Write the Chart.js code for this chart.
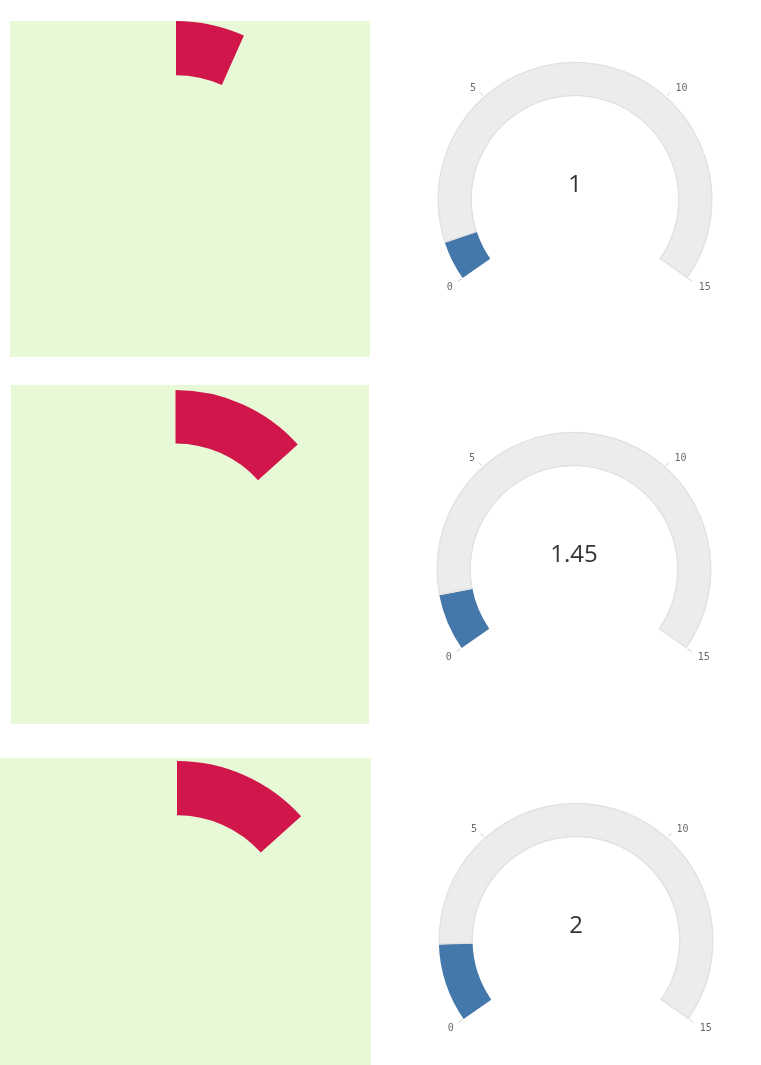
<!DOCTYPE html>
<html>
<head>
<meta charset="utf-8">
<script src="https://cdn.jsdelivr.net/npm/chart.js@4.4.1/dist/chart.umd.min.js"></script>
<style>
  html, body { margin: 0; padding: 0; background: #ffffff; width: 761px; height: 1065px; overflow: hidden; }
  .box { position: absolute; background: #e8f9d8; }
  .cv { position: absolute; }
</style>
</head>
<body>
<script>
// ---- data ----
const gaugeValues = [1, 1.45, 2];
const gaugeMin = 0;
const gaugeMax = 15;
const gaugeTicks = [0, 5, 10, 15];
const arcValues = [1, 2, 2];
const arcMax = 15;

// ---- layout ----
const panels = [
  { box: [10, 21, 360, 336], c: [176, 188], R: 167 },
  { box: [11, 385, 358, 339], c: [175, 554.5], R: 164.5 },
  { box: [0, 758, 371, 320], c: [177, 928], R: 167 }
];
const gaugeCenters = [[575, 199.4], [574.2, 569.2], [575.8, 940.8]];
const gaugeR = 137.5;
const gaugeCut = 0.75;
const gaugeRot = -125;
const gaugeCirc = 250;

function makeCanvas(left, top, w, h) {
  const c = document.createElement('canvas');
  c.className = 'cv';
  c.width = w; c.height = h;
  c.style.left = left + 'px'; c.style.top = top + 'px';
  c.style.width = w + 'px'; c.style.height = h + 'px';
  document.body.appendChild(c);
  return c;
}

// left panels
panels.forEach((p) => {
  const d = document.createElement('div');
  d.className = 'box';
  d.style.left = p.box[0] + 'px'; d.style.top = p.box[1] + 'px';
  d.style.width = p.box[2] + 'px'; d.style.height = p.box[3] + 'px';
  document.body.appendChild(d);
});
panels.forEach((p, i) => {
  const size = Math.ceil(p.R * 2 + 4);
  const cv = makeCanvas(p.c[0] - size / 2, p.c[1] - size / 2, size, size);
  new Chart(cv, {
    type: 'doughnut',
    data: {
      labels: ['value', 'rest'],
      datasets: [{
        data: [arcValues[i], arcMax - arcValues[i]],
        backgroundColor: ['#d0164a', 'rgba(0,0,0,0)'],
        borderWidth: 0
      }]
    },
    options: {
      responsive: false,
      animation: false,
      radius: p.R,
      cutout: '67.5%',
      rotation: 0,
      circumference: 360,
      events: [],
      layout: { padding: 0 },
      plugins: { legend: { display: false }, tooltip: { enabled: false } }
    }
  });
});

// gauges
const gaugePlugin = {
  id: 'gaugeDeco',
  afterDatasetsDraw(chart) {
    const meta = chart.getDatasetMeta(0);
    const arc = meta.data[0];
    const x = arc.x, y = arc.y, R = arc.outerRadius;
    const start = arc.startAngle;
    const circ = chart.options.circumference * Math.PI / 180;
    const ctx = chart.ctx;
    ctx.save();
    gaugeTicks.forEach(v => {
      const a = start + (v - gaugeMin) / (gaugeMax - gaugeMin) * circ;
      const ca = Math.cos(a), sa = Math.sin(a);
      ctx.strokeStyle = '#cfcfcf';
      ctx.lineWidth = 1;
      ctx.beginPath();
      ctx.moveTo(x + ca * (R + 1), y + sa * (R + 1));
      ctx.lineTo(x + ca * (R + 6), y + sa * (R + 6));
      ctx.stroke();
      ctx.fillStyle = '#6a6a6a';
      ctx.font = '10px "DejaVu Sans Mono", monospace';
      ctx.textAlign = ca < 0 ? 'right' : 'left';
      ctx.textBaseline = 'middle';
      const lr = R + 13.5;
      ctx.fillText(String(v), x + ca * lr + (ca < 0 ? 1.5 : 0), y + sa * lr + 1.5);
    });
    const val = chart.data.datasets[0].gaugeValue;
    ctx.fillStyle = '#333333';
    ctx.font = '400 24px "Open Sans", sans-serif';
    ctx.textAlign = 'center';
    ctx.textBaseline = 'middle';
    ctx.fillText(String(val), x, y - 14);
    ctx.restore();
  }
};

const startRad = (gaugeRot - 90) * Math.PI / 180;
const endRad = startRad + gaugeCirc * Math.PI / 180;
const maxY = Math.max(Math.sin(startRad), Math.sin(endRad), Math.sin(startRad) * gaugeCut, Math.sin(endRad) * gaugeCut);
const offY = -(maxY - 1) / 2 * gaugeR;

gaugeValues.forEach((v, i) => {
  const size = 320;
  const [cx, cy] = gaugeCenters[i];
  const cv = makeCanvas(cx - size / 2, cy - offY - size / 2, size, size);
  new Chart(cv, {
    type: 'doughnut',
    data: {
      labels: ['value', 'rest'],
      datasets: [{
        data: [v - gaugeMin, gaugeMax - v],
        gaugeValue: v,
        backgroundColor: ['#4477aa', '#ececec'],
        borderColor: ['#4477aa', '#e1e1e1'],
        borderWidth: [0, 1],
        borderAlign: 'inner'
      }]
    },
    options: {
      responsive: false,
      animation: false,
      radius: gaugeR,
      cutout: (gaugeCut * 100) + '%',
      rotation: gaugeRot,
      circumference: gaugeCirc,
      events: [],
      layout: { padding: 0 },
      plugins: { legend: { display: false }, tooltip: { enabled: false } }
    },
    plugins: [gaugePlugin]
  });
});
</script>
</body>
</html>
